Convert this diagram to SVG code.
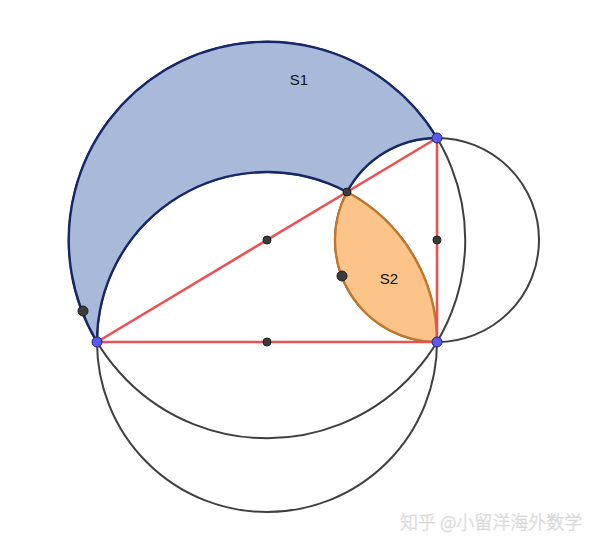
<svg xmlns="http://www.w3.org/2000/svg" width="600" height="549" viewBox="0 0 600 549">
<style>
.circ{fill:none;stroke:#3f3f3f;stroke-width:2}
.s1{fill:#a9b9d9;stroke:#16276a;stroke-width:2.4;stroke-linejoin:round}
.s2{fill:#fdc48a;stroke:#c2762c;stroke-width:2.4;stroke-linejoin:round}
.seg{stroke:#e85252;stroke-width:2.6;stroke-linecap:round}
.vtx{fill:#5a5af0;stroke:#23237a;stroke-width:1}
.pt{fill:#3c3c3c;stroke:#1c1c1c;stroke-width:1}
.lbl{font-family:"Liberation Sans",Arial,sans-serif;font-size:15px;fill:#111;text-anchor:middle}
.wm{font-family:"Noto Sans CJK SC","Liberation Sans",sans-serif;font-size:18px;font-weight:300;fill:#f6f6f6;stroke:#d2d2d2;stroke-width:0.5}
</style>
<rect width="600" height="549" fill="#ffffff"/>
<g id="circles">
<circle class="circ" cx="267" cy="342" r="170"/>
<circle class="circ" cx="267" cy="240" r="198.25"/>
<circle class="circ" cx="437" cy="240" r="102"/>
</g>
<g id="S1">
<path class="s1" d="M97 342 A198.25 198.25 0 0 1 437 138 A102 102 0 0 0 347 192 A170 170 0 0 0 97 342 Z"/>
<text class="lbl" x="299" y="85">S1</text>
</g>
<g id="S2">
<path class="s2" d="M347 192 A102 102 0 0 0 437 342 A170 170 0 0 0 347 192 Z"/>
<text class="lbl" x="389" y="284">S2</text>
</g>
<g id="connectors">
<line class="seg" x1="97" y1="342" x2="437" y2="342"/>
<line class="seg" x1="437" y1="342" x2="437" y2="138"/>
<line class="seg" x1="97" y1="342" x2="437" y2="138"/>
</g>
<g id="points">
<circle class="pt" cx="267" cy="342" r="4"/>
<circle class="pt" cx="437" cy="240" r="4"/>
<circle class="pt" cx="267" cy="240" r="4"/>
<circle class="pt" cx="347" cy="192" r="4"/>
<circle class="pt" cx="342" cy="276" r="5"/>
<circle class="pt" cx="83" cy="311" r="5"/>
</g>
<g id="A"><circle class="vtx" cx="97" cy="342" r="5"/></g>
<g id="B"><circle class="vtx" cx="437" cy="342" r="5"/></g>
<g id="C"><circle class="vtx" cx="437" cy="138" r="5"/></g>
<g id="watermark">
<text class="wm" x="400" y="529">知乎 @小留洋海外数学</text>
</g>
</svg>
